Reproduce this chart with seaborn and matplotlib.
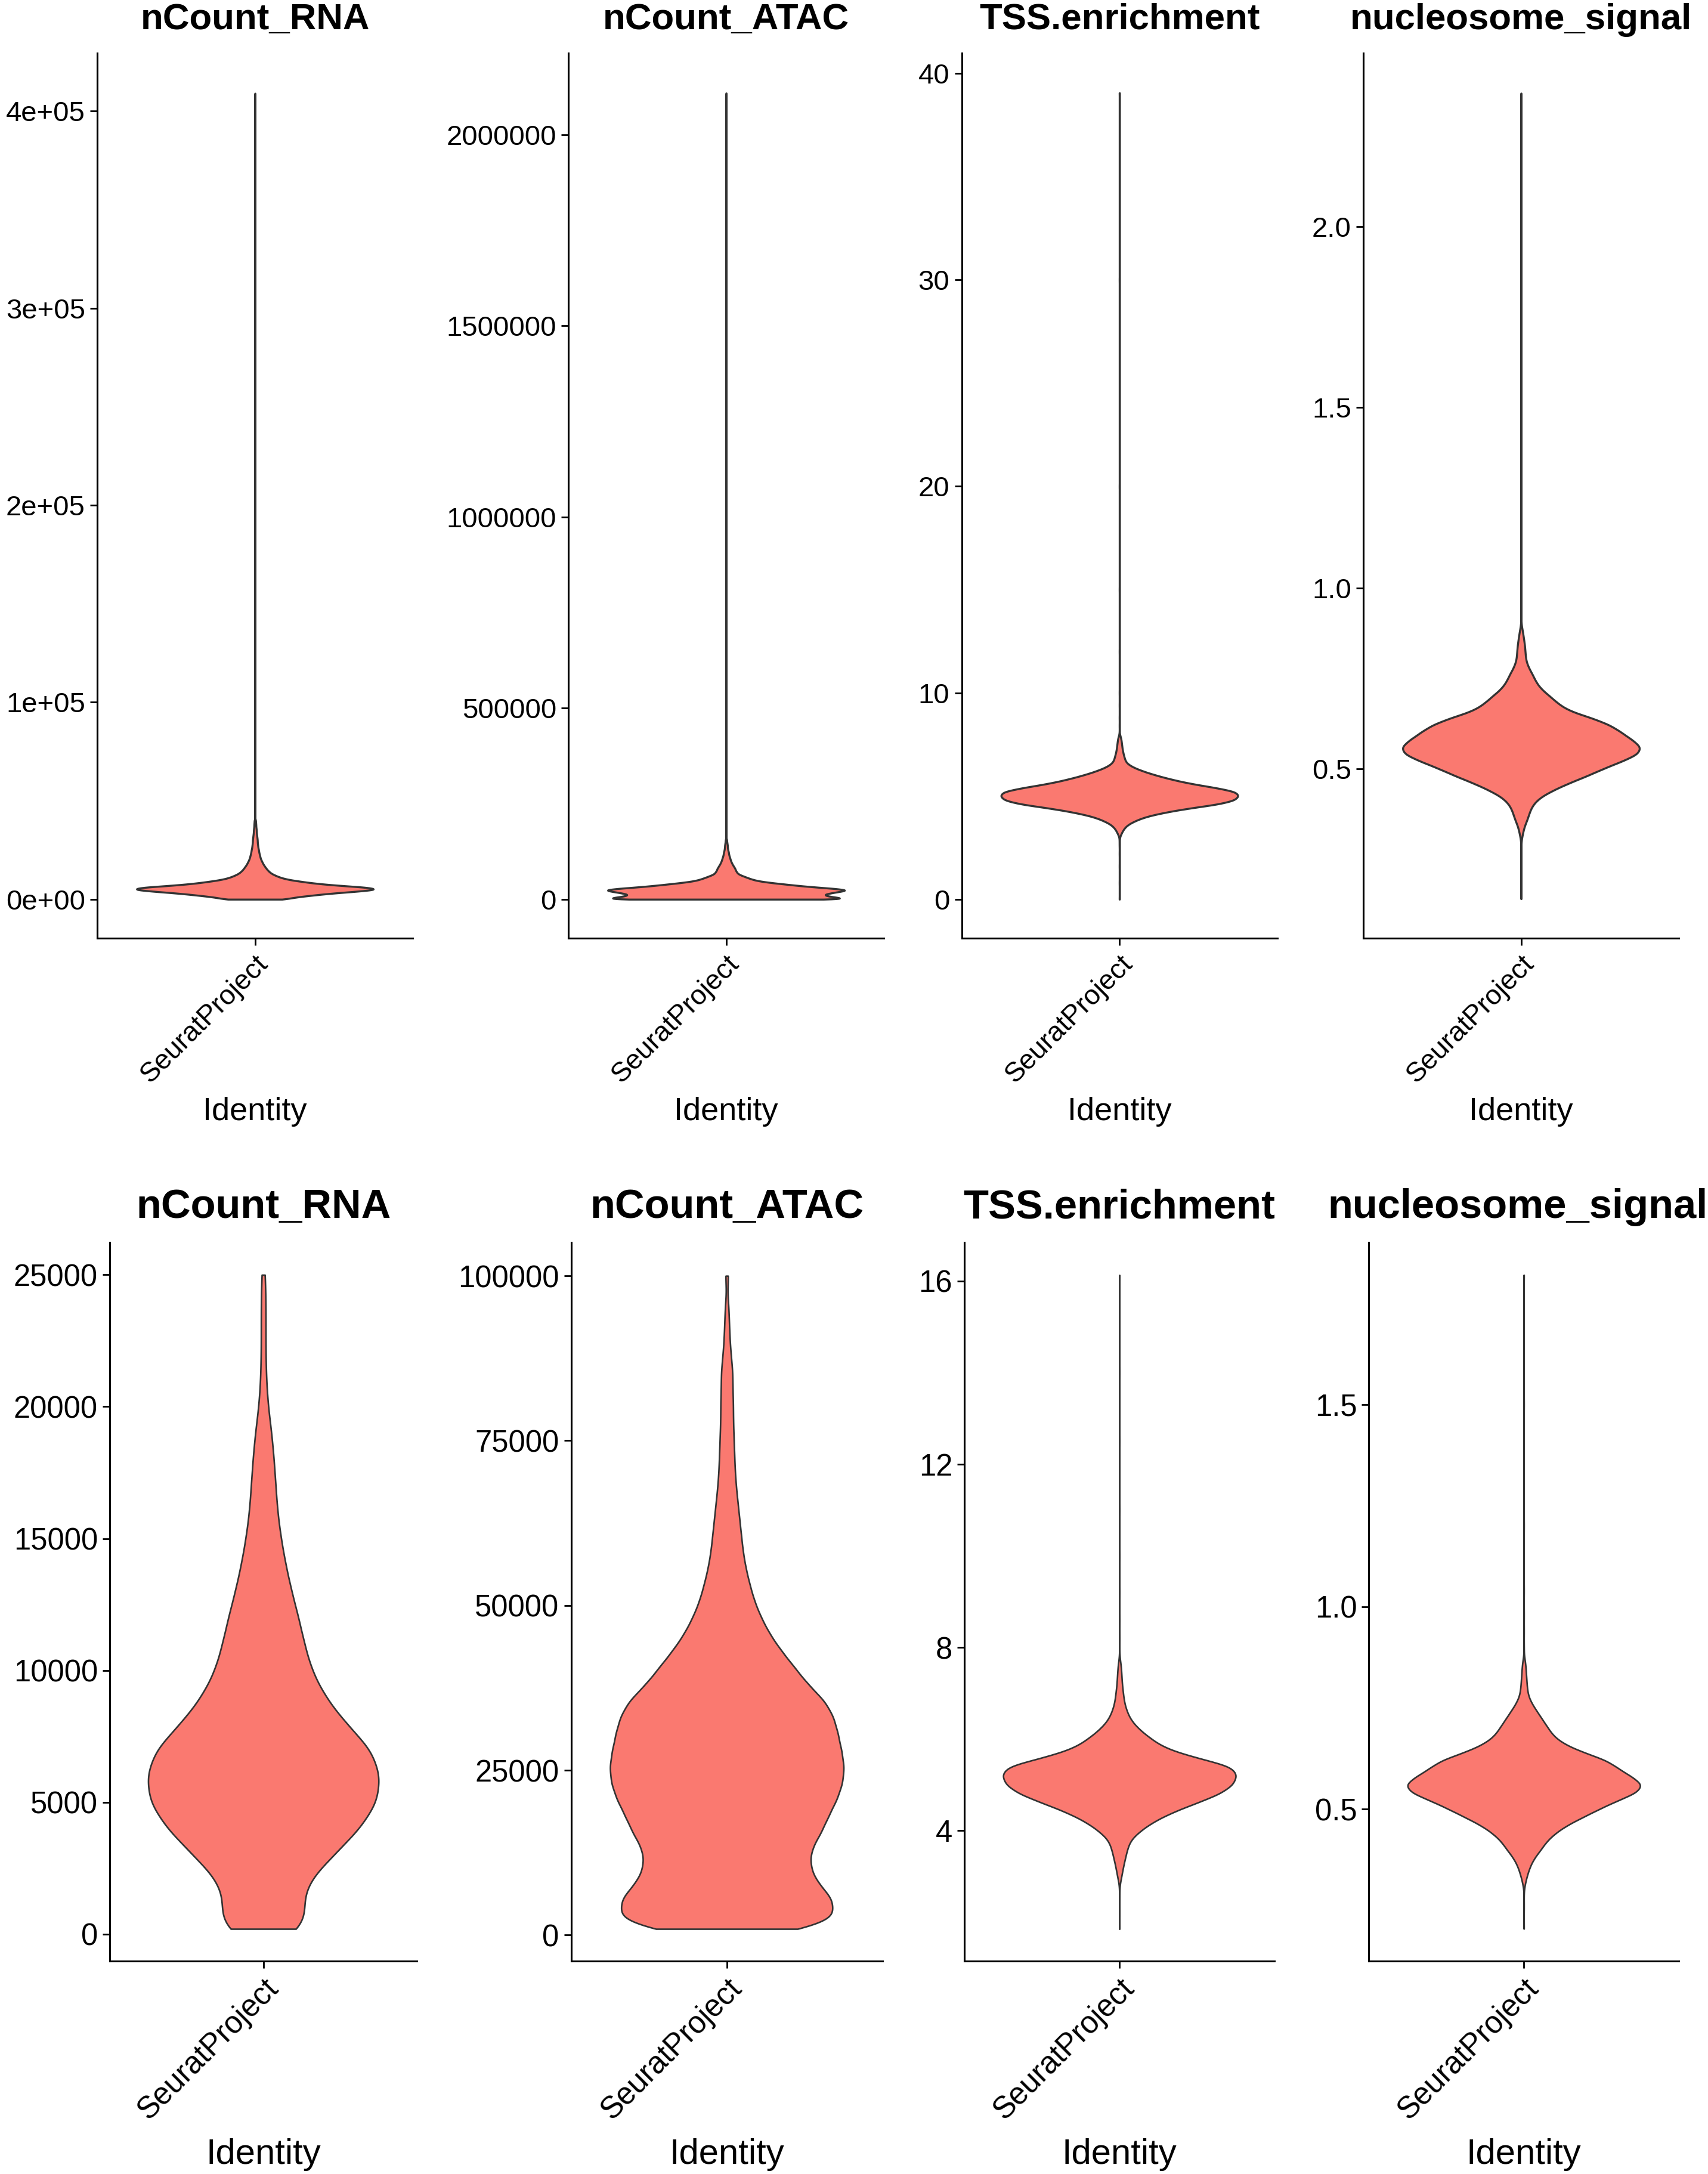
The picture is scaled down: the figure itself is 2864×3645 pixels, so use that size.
import numpy as np
import pandas as pd
import matplotlib
matplotlib.use("Agg")
import matplotlib.pyplot as plt
import seaborn as sns

# ---------- values: knot value and its cell count ----------
rna_top_values = [0,1000,2000,3000,4000,5000,6000,7000,8000,9000,10000,11000,12000,13000,14000,15000,16000,17000,18000,19000,20000,21000,22000,23000,24000,25000,26000,27000,28000,29000,30000,31000,32000,33000,34000,35000,36000,37000,38000,39000,40000,42000,48000,55000,62000,75000,100000,150000,250000,409000]
rna_top_counts = [130,160,235,310,420,510,470,340,250,190,135,105,85,68,58,50,44,38,33,29,25,22,20,18,16,15,13,12,11,10,10,9,8,7,6,6,5,4,4,3,3,1,1,1,1,1,1,1,1,1]

atac_top_values = [0,4000,8000,12000,16000,20000,24000,28000,32000,36000,40000,44000,48000,52000,56000,60000,64000,68000,72000,76000,80000,84000,88000,92000,96000,100000,104000,108000,112000,116000,120000,124000,128000,132000,136000,140000,144000,148000,152000,156000,170000,190000,220000,260000,340000,500000,760000,1100000,1600000,2109000]
atac_top_counts = [520,480,430,410,440,480,520,460,370,300,240,180,135,110,92,75,58,48,44,40,38,34,30,26,23,20,18,16,14,12,11,10,8,7,6,6,5,4,3,3,1,1,1,1,1,1,1,1,1,1]

tss_top_values = [0.0,0.8,1.6,2.2,2.6,2.8,3.0,3.2,3.4,3.6,3.8,4.0,4.2,4.4,4.6,4.8,5.0,5.2,5.4,5.6,5.8,6.0,6.2,6.4,6.6,6.8,7.0,7.2,7.4,7.6,7.8,8.0,8.4,8.8,9.4,10,12,15,20,30,39.06]
tss_top_counts = [1,1,1,1,1,1,2,4,8,15,30,50,85,130,190,222,228,225,185,135,100,70,45,25,13,10,8,6,5,4,3,2,2,1,1,1,1,1,1,1,1]

nuc_top_values = [0.14,0.20,0.26,0.30,0.32,0.34,0.36,0.38,0.40,0.42,0.44,0.46,0.48,0.50,0.52,0.54,0.56,0.58,0.60,0.62,0.64,0.66,0.68,0.70,0.72,0.74,0.76,0.78,0.80,0.82,0.84,0.86,0.88,0.90,0.94,0.98,1.04,1.2,1.5,1.9,2.369]
nuc_top_counts = [1,1,1,2,3,6,12,16,22,35,60,90,125,155,190,222,228,210,190,170,135,90,70,55,38,28,22,14,9,8,7,5,3,2,2,1,1,1,1,1,1]

rna_low_values = [194,1000,2000,3000,4000,5000,6000,7000,8000,9000,10000,11000,12000,13000,14000,15000,16000,17000,18000,19000,20000,21000,22000,23000,24000,25000]
rna_low_counts = [60,62,76,120,165,195,200,185,140,105,82,70,60,48,38,30,24,21,18,14,8,5,4,4,4,3]

atac_low_values = [930,3000,5500,8000,10500,13000,15500,18000,20500,23000,25500,28000,30500,33000,35500,38000,40500,43000,45500,48000,50500,53000,55500,58000,60500,63000,65500,68000,70500,73000,75500,78000,80500,83000,85500,88000,90500,93000,95500,98000,100000]
atac_low_counts = [115,180,185,155,143,145,163,175,190,200,203,198,192,185,170,140,118,95,75,60,48,40,33,28,25,22,19,16,14,13,12,11,11,10,10,7,5,4,3,2,3]

tss_low_values = [1.85,2.2,2.55,2.8,3.0,3.2,3.4,3.6,3.8,4.0,4.2,4.4,4.6,4.8,5.0,5.2,5.4,5.6,5.8,6.0,6.2,6.4,6.6,6.8,7.0,7.2,7.4,7.6,7.8,8.2,8.6,9.2,10,11,12.5,14,16.13]
tss_low_counts = [1,1,1,2,4,7,11,15,21,40,65,100,145,190,215,222,215,140,85,60,38,22,14,9,7,5,4,3,2,2,1,1,1,1,1,1,1]

nuc_low_values = [0.204,0.26,0.30,0.32,0.34,0.36,0.38,0.40,0.42,0.44,0.46,0.48,0.50,0.52,0.54,0.56,0.58,0.60,0.62,0.64,0.66,0.68,0.70,0.72,0.74,0.76,0.78,0.80,0.82,0.84,0.86,0.88,0.90,0.94,0.98,1.04,1.2,1.5,1.82]
nuc_low_counts = [1,1,2,3,7,12,20,32,42,58,80,110,140,172,210,222,200,175,155,110,75,55,45,35,25,15,8,6,5,4,3,2,2,2,1,1,1,1,1]

titles = ["nCount_RNA", "nCount_ATAC", "TSS.enrichment", "nucleosome_signal"]
category = "SeuratProject"
xlabel = "Identity"

ticks_rna_top = [0, 100000, 200000, 300000, 400000]
labels_rna_top = ["0e+00", "1e+05", "2e+05", "3e+05", "4e+05"]
ticks_atac_top = [0, 500000, 1000000, 1500000, 2000000]
ticks_tss_top = [0, 10, 20, 30, 40]
ticks_nuc_top = [0.5, 1.0, 1.5, 2.0]
ticks_rna_low = [0, 5000, 10000, 15000, 20000, 25000]
ticks_atac_low = [0, 25000, 50000, 75000, 100000]
ticks_tss_low = [4, 8, 12, 16]
ticks_nuc_low = [0.5, 1.0, 1.5]

# ---------- style and layout ----------
sns.set_theme(style="ticks")
plt.rcParams["font.family"] = ["Liberation Sans", "DejaVu Sans"]
plt.rcParams["axes.grid"] = False

W, H = 2864, 3645
S = W / 1229.0
DPI = 100
FILL = "#FA7970"
EDGE = "#333333"

fig = plt.figure(figsize=(W / DPI, H / DPI), dpi=DPI, facecolor="white")


def panel(left, right, top, bottom, values, counts, bw, ylim, ticks, labels, title,
          title_fs, tick_fs, cat_fs, lab_fs, label_y, title_pad, line_w, title_x=0.5):
    ax = fig.add_axes([left * S / W, 1 - bottom * S / H,
                       (right - left) * S / W, (bottom - top) * S / H])
    # the body of each violin outweighs its sparse tail, so the tail stays a plain line
    weights = [c * 4 if c > 2 else 1 for c in counts]
    sample = np.repeat(np.asarray(values, float), weights)
    frame = pd.DataFrame({"identity": [category] * len(sample), "value": sample})
    sns.violinplot(data=frame, x="identity", y="value", ax=ax, color=FILL, saturation=1,
                   inner=None, cut=0, density_norm="width", width=0.9, gridsize=3000,
                   bw_method=bw / sample.std(), linecolor=EDGE, linewidth=line_w)
    ax.set_xlim(-0.6, 0.6)
    ax.set_ylim(*ylim)
    ax.set_yticks(ticks)
    ax.set_yticklabels(labels, fontsize=tick_fs, color="black")
    ax.tick_params(axis="both", length=8.5, width=2, color="black", pad=6)
    ax.set_xticks([0])
    ax.set_xticklabels([category], fontsize=cat_fs, rotation=45, ha="right", va="top",
                       rotation_mode="anchor", color="black")
    ax.set_ylabel("")
    ax.set_xlabel(xlabel, fontsize=lab_fs, color="black", va="center")
    ax.xaxis.set_label_coords(0.5, (bottom - label_y) / (bottom - top))
    ax.set_title(title, fontsize=title_fs, fontweight="bold", color="black", pad=title_pad, x=title_x)
    sns.despine(ax=ax)
    for side in ("left", "bottom"):
        ax.spines[side].set_linewidth(2.2)
        ax.spines[side].set_color("black")
    return ax


top_style = dict(top=38, bottom=675, title_fs=44.5, tick_fs=34, cat_fs=33.5, lab_fs=39,
                 label_y=800, title_pad=28.5, line_w=2.4)
low_style = dict(top=894, bottom=1411, title_fs=49.5, tick_fs=36.5, cat_fs=37, lab_fs=43,
                 label_y=1550, title_pad=29.5, line_w=1.9)

panel(70, 297, values=rna_top_values, counts=rna_top_counts, bw=650, ylim=(-19750, 429600),
      ticks=ticks_rna_top, labels=labels_rna_top, title=titles[0], **top_style)
panel(409, 636, values=atac_top_values, counts=atac_top_counts, bw=2600, ylim=(-101800, 2214500),
      ticks=ticks_atac_top, labels=[str(t) for t in ticks_atac_top], title=titles[1], **top_style)
panel(692, 919, values=tss_top_values, counts=tss_top_counts, bw=0.13, ylim=(-1.886, 41.0),
      ticks=ticks_tss_top, labels=[str(t) for t in ticks_tss_top], title=titles[2], **top_style)
panel(981, 1208, values=nuc_top_values, counts=nuc_top_counts, bw=0.013, ylim=(0.031, 2.481),
      ticks=ticks_nuc_top, labels=[f"{t:.1f}" for t in ticks_nuc_top], title=titles[3], **top_style)

panel(79, 300, values=rna_low_values, counts=rna_low_counts, bw=650, ylim=(-1030, 26224),
      ticks=ticks_rna_low, labels=[str(t) for t in ticks_rna_low], title=titles[0], **low_style)
panel(411, 635, values=atac_low_values, counts=atac_low_counts, bw=1600, ylim=(-3963, 105050),
      ticks=ticks_atac_low, labels=[str(t) for t in ticks_atac_low], title=titles[1], **low_style)
panel(694, 917, values=tss_low_values, counts=tss_low_counts, bw=0.13, ylim=(1.148, 16.84),
      ticks=ticks_tss_low, labels=[str(t) for t in ticks_tss_low], title=titles[2], **low_style)
panel(985, 1208, values=nuc_low_values, counts=nuc_low_counts, bw=0.013, ylim=(0.124, 1.90),
      ticks=ticks_nuc_low, labels=[f"{t:.1f}" for t in ticks_nuc_low], title=titles[3],
      title_x=0.48, **low_style)

fig.savefig("out.png", dpi=DPI, facecolor="white")
